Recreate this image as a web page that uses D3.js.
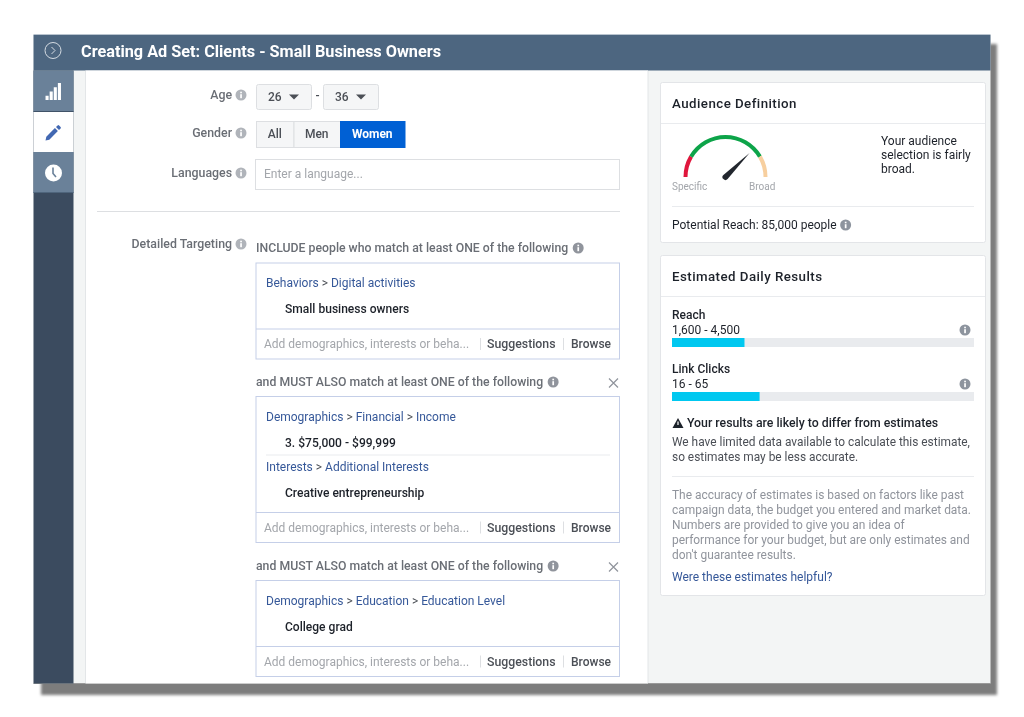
<!DOCTYPE html>
<html>
<head>
<meta charset="utf-8">
<title>Creating Ad Set</title>
<script src="https://cdn.jsdelivr.net/npm/d3@7"></script>
<style>
  html, body { margin: 0; padding: 0; background: #fff; }
  svg { display: block; }
  text { font-family: Roboto, "Liberation Sans", Arial, sans-serif; font-size: 12px; fill: #4b4f56; }
</style>
</head>
<body>
<svg id="chart" width="1024" height="717"></svg>
<script>
// Text and values
var pageTitle = 'Creating Ad Set: Clients - Small Business Owners';
var ageValues = ['26', '36'];
var genderOptions = ['All', 'Men', 'Women'];
var selectedGender = 'Women';
var targetingHeadings = ['INCLUDE people who match at least ONE of the following',
  'and MUST ALSO match at least ONE of the following',
  'and MUST ALSO match at least ONE of the following'];
var targetingPaths = [
  [['Behaviors', 'Digital activities']],
  [['Demographics', 'Financial', 'Income'], ['Interests', 'Additional Interests']],
  [['Demographics', 'Education', 'Education Level']]
];
var targetingValues = [
  ['Small business owners'],
  ['3. $75,000 - $99,999', 'Creative entrepreneurship'],
  ['College grad']
];

// Audience gauge: 0 is Specific, 1 is Broad
var gaugeBreaks = [0, 0.17, 0.83, 1];
var gaugeColors = ['#e0183c', '#0da44a', '#f7cf9f'];
var gaugeNeedle = 0.75;
var audienceLines = ['Your audience', 'selection is fairly', 'broad.'];
var potentialReach = 'Potential Reach: 85,000 people';

// Estimated results, bar length as share of the track
var resultNames = ['Reach', 'Link Clicks'];
var resultRanges = ['1,600 - 4,500', '16 - 65'];
var resultShares = [0.24, 0.29];
var warningBody = ['We have limited data available to calculate this estimate,',
  'so estimates may be less accurate.'];
var accuracyBody = ['The accuracy of estimates is based on factors like past',
  'campaign data, the budget you entered and market data.',
  'Numbers are provided to give you an idea of',
  'performance for your budget, but are only estimates and',
  "don't guarantee results."];

var root = d3.select('#chart');
var defs = root.append('defs');
defs.append('filter').attr('id', 'shadowBlur')
    .attr('x', '-5%').attr('y', '-5%').attr('width', '110%').attr('height', '110%')
  .append('feGaussianBlur').attr('stdDeviation', 1.6);
// The reference is a slightly soft screenshot
defs.append('filter').attr('id', 'soft')
    .attr('filterUnits', 'userSpaceOnUse')
    .attr('x', 0).attr('y', 0).attr('width', 1024).attr('height', 717)
  .append('feGaussianBlur').attr('stdDeviation', 0.35);
var svg = root.append('g').attr('filter', 'url(#soft)');

// Small helpers so the drawing below stays readable
var box = function (g, x, y, w, h, fill, stroke, r) {
  return g.append('rect')
      .attr('x', x).attr('y', y).attr('width', w).attr('height', h)
      .attr('rx', r || 0)
      .attr('fill', fill)
      .attr('stroke', stroke || 'none');
}
var label = function (g, x, y, str, size, color, weight, anchor) {
  return g.append('text')
      .attr('x', x).attr('y', y).attr('dy', '.35em')
      .attr('text-anchor', anchor || 'start')
      .style('font-size', (size || 12) + 'px')
      .style('fill', color || '#4b4f56')
      .style('font-weight', weight || 'normal')
      .text(str);
}
var hline = function (g, x1, x2, y, color) {
  g.append('line').attr('x1', x1).attr('x2', x2).attr('y1', y).attr('y2', y)
      .attr('stroke', color);
}
var infoIcon = function (g, x, y, color) {
  var c = color || '#b0b4ba';
  g.append('circle').attr('cx', x).attr('cy', y).attr('r', 5.5).attr('fill', c);
  g.append('rect').attr('x', x - 0.8).attr('y', y - 0.8).attr('width', 1.7).attr('height', 4).attr('fill', '#fff');
  g.append('rect').attr('x', x - 0.8).attr('y', y - 3.3).attr('width', 1.7).attr('height', 1.6).attr('fill', '#fff');
}
var caret = function (g, x, y) {
  g.append('path').attr('d', 'M' + (x - 5) + ',' + (y - 2.5) + 'h10l-5,5z').attr('fill', '#4b4f56');
}
var closeIcon = function (g, x, y) {
  g.append('path')
      .attr('d', 'M' + (x - 4.5) + ',' + (y - 4.5) + 'l9,9m0,-9l-9,9')
      .attr('stroke', '#90949c').attr('stroke-width', 1.2).attr('fill', 'none');
}

// Window with its drop shadow
box(svg, 41, 44, 956, 651, '#7d7d7d').attr('filter', 'url(#shadowBlur)');
box(svg, 33.5, 34, 957, 649.5, '#f3f5f5');
hline(svg, 33.5, 990.5, 34.5, '#b9c4cf');
hline(svg, 33.5, 990.5, 683.5, '#9a9a9a');

// Title bar
box(svg, 33.5, 35, 957, 35.5, '#4d6680');
svg.append('circle').attr('cx', 53).attr('cy', 50.5).attr('r', 8)
    .attr('fill', 'none').attr('stroke', '#d5dce3').attr('stroke-width', 1);
svg.append('path').attr('d', 'M51.5,47l3.5,3.5l-3.5,3.5')
    .attr('fill', 'none').attr('stroke', '#d5dce3').attr('stroke-width', 1);
label(svg, 81, 51, pageTitle, 16.25, '#fff', 'bold');

// Left rail
box(svg, 33.5, 70.5, 40, 613, '#3a4c5f');
box(svg, 33.5, 70.5, 40, 41, '#6a8199');
box(svg, 33.5, 112, 40, 40, '#fff');
box(svg, 33.5, 152, 40, 41, '#6a8199');
hline(svg, 33.5, 73.5, 111.5, '#3f5368');
hline(svg, 33.5, 73.5, 192.5, '#4f657b');

var signalX = d3.scaleBand().domain(d3.range(4)).range([44.5, 62]).padding(0.25);
var signalY = d3.scaleLinear().domain([0, 4]).range([100, 83]);
svg.selectAll('.signal')
    .data(d3.range(4))
    .enter()
  .append('rect')
    .attr('class', 'signal')
    .attr('x', function (d) { return signalX(d); })
    .attr('width', signalX.bandwidth())
    .attr('y', function (d) { return signalY(d + 1); })
    .attr('height', function (d) { return 100 - signalY(d + 1); })
    .attr('fill', '#fff');
svg.append('path')
    .attr('d', 'M45.5,140.5l.8,-3.8l8.6,-8.6l3,3l-8.6,8.6zM56,127l1.6,-1.6q.8,-.7,1.5,0l1.5,1.5q.7,.7,0,1.5l-1.6,1.6z')
    .attr('fill', '#4267b2');
svg.append('circle').attr('cx', 53.5).attr('cy', 173).attr('r', 8.5).attr('fill', '#fff');
svg.append('path').attr('d', 'M53,167.5v6l3,3.5').attr('fill', 'none').attr('stroke', '#6a8199').attr('stroke-width', 1.6);

// Main form panel
box(svg, 85.5, 70.5, 562.5, 613, '#fff');
svg.append('line').attr('x1', 85.5).attr('x2', 85.5).attr('y1', 71).attr('y2', 683).attr('stroke', '#e3e6e8');
svg.append('line').attr('x1', 648).attr('x2', 648).attr('y1', 71).attr('y2', 683).attr('stroke', '#e3e6e8');

var form = svg.append('g');
[['Age', 95], ['Gender', 133], ['Languages', 173], ['Detailed Targeting', 244]].forEach(function (row) {
  label(form, 232, row[1], row[0], 12.35, '#6a6e75', 500, 'end');
  infoIcon(form, 241, row[1]);
});

// Age selects
var ageX = [256, 323];
ageValues.forEach(function (age, i) {
  box(form, ageX[i] + 0.5, 84.5, 55, 25, '#f5f6f7', '#dddfe2', 2);
  label(form, ageX[i] + 12, 97, age, 12, '#4b4f56', 500);
  caret(form, ageX[i] + 38, 97);
});
label(form, 317.5, 96, '-', 12, '#4b4f56', 500, 'middle');

// Gender toggle
var genderEdges = [256, 293.5, 340, 404.5];
genderOptions.forEach(function (name, i) {
  var on = name == selectedGender;
  box(form, genderEdges[i] + 0.5, 121.5, genderEdges[i + 1] - genderEdges[i], 26, on ? '#0061d4' : '#f5f6f7', on ? '#0061d4' : '#dddfe2');
  label(form, (genderEdges[i] + genderEdges[i + 1]) / 2, 134, name, 12, on ? '#fff' : '#4b4f56', on ? 'bold' : 500, 'middle');
});

// Language input
box(form, 255.5, 159.5, 364, 30, '#fff', '#dddfe2');
label(form, 264, 174, 'Enter a language...', 12, '#a3a6ab');
hline(form, 97, 620, 211.5, '#dddfe2');

// Targeting groups, stacked from their contents
var groupHeadY = [248, 382, 566];
var groupTop = [263, 396.5, 580.5];
targetingHeadings.forEach(function (head, i) {
  var g = form.append('g');
  var paths = targetingPaths[i];
  var top = groupTop[i];
  var rule = top + 66 + 50 * (paths.length - 1);
  var headText = label(g, 256, groupHeadY[i], head, 12.27, '#6a6e75', 500);
  infoIcon(g, headText.node().getComputedTextLength() + 256 + 10, groupHeadY[i], '#90949c');
  if (i > 0) closeIcon(g, 613.5, groupHeadY[i] + 1);

  box(g, 256, top, 363.5, rule - top + 30, '#fff', '#c5cfe8');
  hline(g, 256, 620, rule, '#c5cfe8');

  paths.forEach(function (crumbs, j) {
    var y = top + 20 + 50 * j;
    var crumb = g.append('text').attr('x', 266).attr('y', y).attr('dy', '.35em');
    crumbs.forEach(function (part, k) {
      if (k > 0) crumb.append('tspan').style('fill', '#4b4f56').text(' > ');
      crumb.append('tspan').style('fill', '#365899').text(part);
    });
    label(g, 285, y + 26, targetingValues[i][j], 12.05, '#1d2129', 500);
    if (j < paths.length - 1) hline(g, 266, 610, y + 38.5, '#e9ebee');
  });

  label(g, 264, rule + 15, 'Add demographics, interests or beha...', 12, '#a3a6ab');
  g.append('line').attr('x1', 480.5).attr('x2', 480.5).attr('y1', rule + 9).attr('y2', rule + 21).attr('stroke', '#dddfe2');
  label(g, 487, rule + 15, 'Suggestions', 12.3, '#4b4f56', 500);
  g.append('line').attr('x1', 563.5).attr('x2', 563.5).attr('y1', rule + 9).attr('y2', rule + 21).attr('stroke', '#dddfe2');
  label(g, 571, rule + 15, 'Browse', 12, '#4b4f56', 500);
});

// Right column cards
var side = svg.append('g');
box(side, 660.5, 82.5, 325, 160, '#fff', '#e3e5e8', 2);
label(side, 672, 103.5, 'Audience Definition', 13.3, '#1d2129', 500).style('letter-spacing', '.45px');
hline(side, 661, 985, 123.5, '#e9ebee');

var gaugeAngle = d3.scaleLinear().domain([0, 1]).range([-Math.PI / 2, Math.PI / 2]);
var gaugeArc = d3.arc().innerRadius(38).outerRadius(42);
var gauge = side.append('g').attr('transform', 'translate(725.5,177)');
gauge.selectAll('path')
    .data(gaugeColors)
    .enter()
  .append('path')
    .attr('d', function (d, i) {
      return gaugeArc({ startAngle: gaugeAngle(gaugeBreaks[i]), endAngle: gaugeAngle(gaugeBreaks[i + 1]) });
    })
    .attr('fill', function (d) { return d; });
var needle = gauge.append('g').attr('transform', 'rotate(' + (gaugeAngle(gaugeNeedle) * 180 / Math.PI) + ')');
needle.append('path').attr('d', 'M-3,0L0,-34L3,0A3,3,0,0,1,-3,0Z').attr('fill', '#23272e');

label(side, 672, 186, 'Specific', 10, '#a3a6ab');
label(side, 749, 186, 'Broad', 10, '#a3a6ab');
audienceLines.forEach(function (line, i) {
  label(side, 881, 141 + i * 14, line, 12, '#1d2129');
});
hline(side, 672, 974, 206.5, '#e9ebee');
var reachText = label(side, 672, 225, potentialReach, 12, '#1d2129');
infoIcon(side, 672 + reachText.node().getComputedTextLength() + 9, 225, '#8d949e');

box(side, 660.5, 255.5, 325, 340, '#fff', '#e3e5e8', 2);
label(side, 672, 276.5, 'Estimated Daily Results', 13.3, '#1d2129', 500).style('letter-spacing', '.45px');
hline(side, 661, 985, 296.5, '#e9ebee');

// Result bars
var barX = d3.scaleLinear().domain([0, 1]).range([672, 974]);
var barY = d3.scaleBand().domain(resultNames).range([338, 446]);
var results = side.selectAll('.result')
    .data(resultNames)
    .enter()
  .append('g')
    .attr('class', 'result')
    .attr('transform', function (d) { return 'translate(0,' + (barY(d) - 338) + ')'; });
results.append('rect')
    .attr('x', barX(0)).attr('y', 338)
    .attr('width', barX(1) - barX(0)).attr('height', 9)
    .attr('fill', '#e9ebee');
results.append('rect')
    .attr('x', barX(0)).attr('y', 338)
    .attr('width', function (d, i) { return barX(resultShares[i]) - barX(0); })
    .attr('height', 9)
    .attr('fill', '#00c8f0');
results.each(function (d, i) {
  var g = d3.select(this);
  label(g, 672, 315, d, 12, '#1d2129', 500);
  label(g, 672, 330, resultRanges[i], 12, '#1d2129');
  infoIcon(g, 965, 330, '#8d949e');
});

// Warning and notes
side.append('path').attr('d', 'M678,418l5.5,10h-11z').attr('fill', '#1d2129');
side.append('rect').attr('x', 677.4).attr('y', 421.5).attr('width', 1.2).attr('height', 3.5).attr('fill', '#fff');
label(side, 687, 423, 'Your results are likely to differ from estimates', 12.3, '#1d2129', 500);
warningBody.forEach(function (line, i) {
  label(side, 672, 442 + i * 15, line, 11.9, '#4b4f56');
});
hline(side, 672, 974, 476.5, '#e9ebee');
accuracyBody.forEach(function (line, i) {
  label(side, 672, 495 + i * 15, line, 11.95, '#90949c');
});
label(side, 672, 577, 'Were these estimates helpful?', 12, '#365899');
</script>
</body>
</html>
